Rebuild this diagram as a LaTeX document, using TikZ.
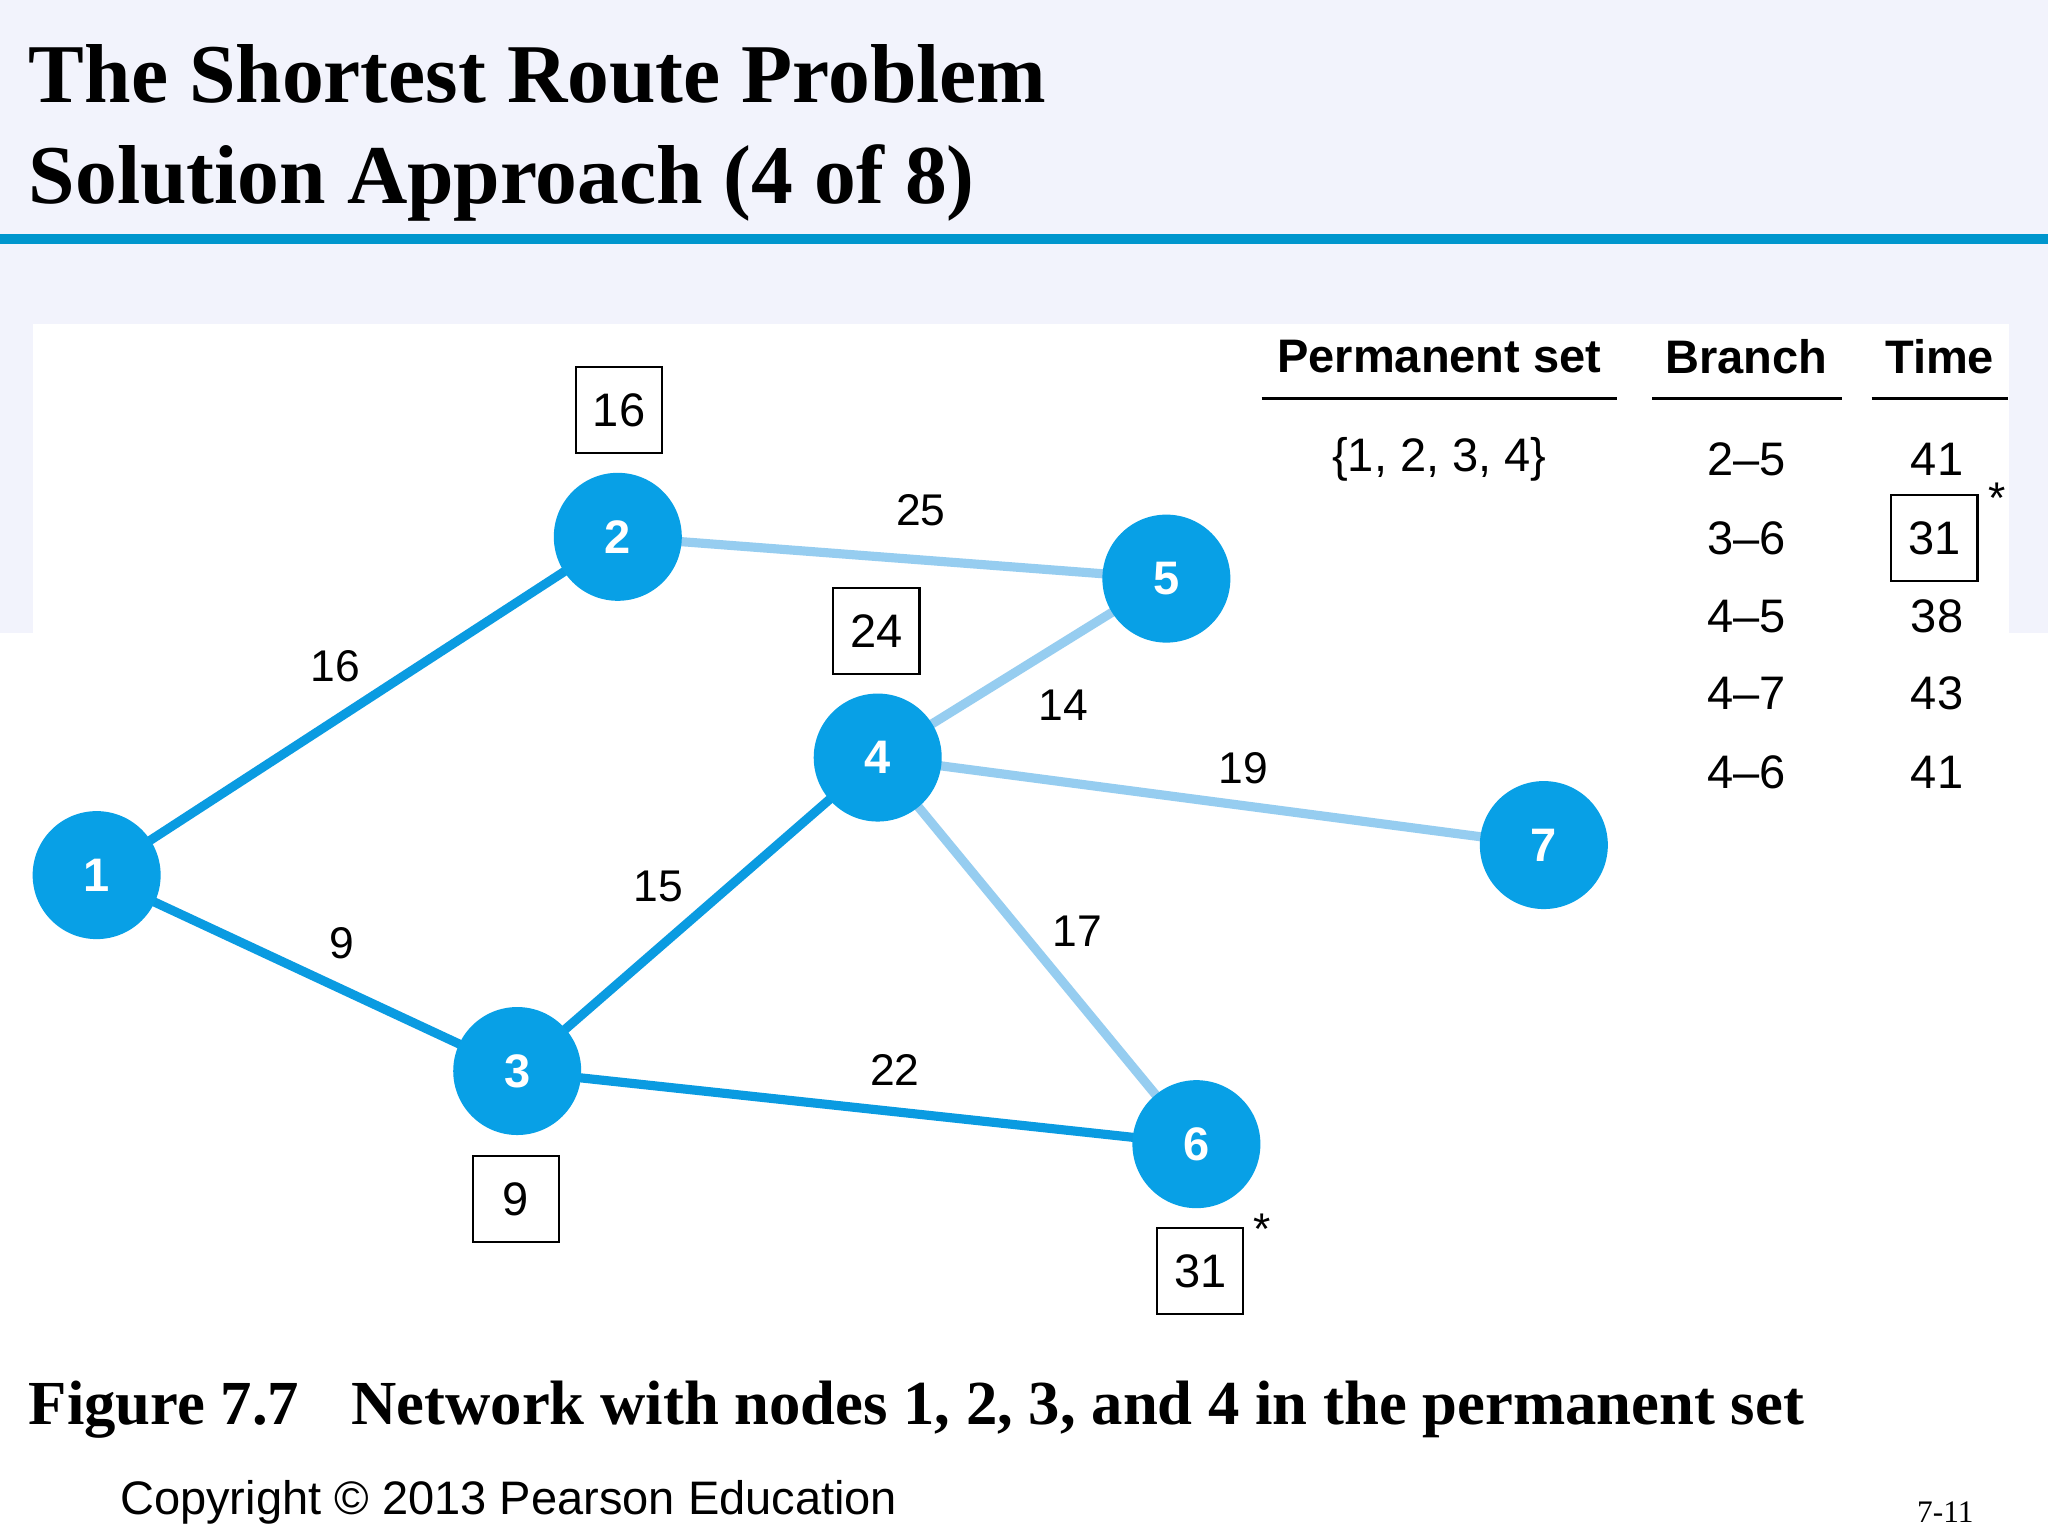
\documentclass[tikz,border=0pt]{standalone}
\usepackage{fontspec}
\setmainfont{Liberation Serif}
\setsansfont{Liberation Sans}
\definecolor{nodeblue}{RGB}{8,160,230}
\definecolor{darkedge}{RGB}{10,155,225}
\definecolor{lightedge}{RGB}{150,205,240}
\definecolor{barblue}{RGB}{0,150,205}
\definecolor{bgtint}{RGB}{242,243,252}
\pgfdeclarelayer{bg}
\pgfdeclarelayer{edges}
\pgfsetlayers{bg,edges,main}
\begin{document}
\begin{tikzpicture}[x=0.5pt,y=-0.5pt,
  vert/.style={circle,fill=nodeblue,minimum size=49pt,inner sep=0pt,text=white,font=\sffamily\bfseries\fontsize{18}{18}\selectfont},
  dk/.style={draw=darkedge,line width=3.5pt},
  lt/.style={draw=lightedge,line width=3.5pt},
  lab/.style={font=\sffamily\fontsize{17}{17}\selectfont},
  bx/.style={draw,line width=0.8pt,minimum width=33pt,minimum height=33pt,inner sep=0pt,font=\sffamily\fontsize{18}{18}\selectfont},
  hd/.style={font=\sffamily\bfseries\fontsize{18}{18}\selectfont},
  tb/.style={font=\sffamily\fontsize{18}{18}\selectfont}]
\useasboundingbox (0,0) rectangle (1568,1176);
\begin{pgfonlayer}{bg}
\fill[bgtint] (0,0) rectangle (1568,485);
\fill[white] (25,248) rectangle (1538,1010);
\fill[barblue] (0,179) rectangle (1568,187);
\end{pgfonlayer}
\node[anchor=west,font=\bfseries\fontsize{32}{32}\selectfont] (t1) at (15,57) {The Shortest Route Problem};
\node[anchor=west,font=\bfseries\fontsize{32}{32}\selectfont] (t2) at (15,140) {Solution Approach (4 of 8)};
\node[vert] (n1) at (74,670) {1};
\node[vert] (n2) at (473,411) {2};
\node[vert] (n3) at (396,820) {3};
\node[vert] (n4) at (672,580) {4};
\node[vert] (n5) at (893,443) {5};
\node[vert] (n6) at (916,876) {6};
\node[vert] (n7) at (1182,647) {7};
\begin{pgfonlayer}{edges}
\draw[dk] (n1.center) -- (n2.center);
\draw[dk] (n1.center) -- (n3.center);
\draw[dk] (n3.center) -- (n4.center);
\draw[dk] (n3.center) -- (n6.center);
\draw[lt] (n2.center) -- (n5.center);
\draw[lt] (n4.center) -- (n5.center);
\draw[lt] (n4.center) -- (n7.center);
\draw[lt] (n4.center) -- (n6.center);
\end{pgfonlayer}
\node[lab] (l16) at (257,510) {16};
\node[lab] (l9) at (262,722) {9};
\node[lab] (l15) at (504,679) {15};
\node[lab] (l22) at (685,819) {22};
\node[lab] (l25) at (705,391) {25};
\node[lab] (l14) at (814,540) {14};
\node[lab] (l19) at (952,588) {19};
\node[lab] (l17) at (825,713) {17};
\node[bx] (b16) at (474,314) {16};
\node[bx] (b24) at (671,483) {24};
\node[bx] (b9) at (395,918) {9};
\node[bx] (b31) at (919,973) {31};
\node[lab,anchor=south west] (s1) at (953,960) {*};
\node[hd] (h1) at (1102,273) {Permanent set};
\node[hd] (h2) at (1337,273) {Branch};
\node[hd] (h3) at (1485,273) {Time};
\draw[line width=1.2pt] (966,305) -- (1238,305);
\draw[line width=1.2pt] (1265,305) -- (1410,305);
\draw[line width=1.2pt] (1433,305) -- (1537,305);
\node[tb] (ps) at (1102,352) {\{1, 2, 3, 4\}};
\node[tb] (r1) at (1337,352) {2–5};
\node[tb] (r2) at (1337,412) {3–6};
\node[tb] (r3) at (1337,472) {4–5};
\node[tb] (r4) at (1337,531) {4–7};
\node[tb] (r5) at (1337,591) {4–6};
\node[tb] (v1) at (1483,352) {41};
\node[bx] (v2) at (1481,412) {31};
\node[tb] (v3) at (1483,472) {38};
\node[tb] (v4) at (1483,531) {43};
\node[tb] (v5) at (1483,591) {41};
\node[lab,anchor=south west] (s2) at (1515,400) {*};
\node[anchor=west,font=\bfseries\fontsize{24}{24}\selectfont] (cap) at (15,1079) {Figure 7.7\hspace{20pt}Network with nodes 1, 2, 3, and 4 in the permanent set};
\node[anchor=west,font=\sffamily\fontsize{18}{18}\selectfont] (copy) at (85,1150) {Copyright © 2013 Pearson Education};
\node[anchor=east,font=\fontsize{12}{12}\selectfont] (pg) at (1518,1158) {7-11};
\end{tikzpicture}
\end{document}
